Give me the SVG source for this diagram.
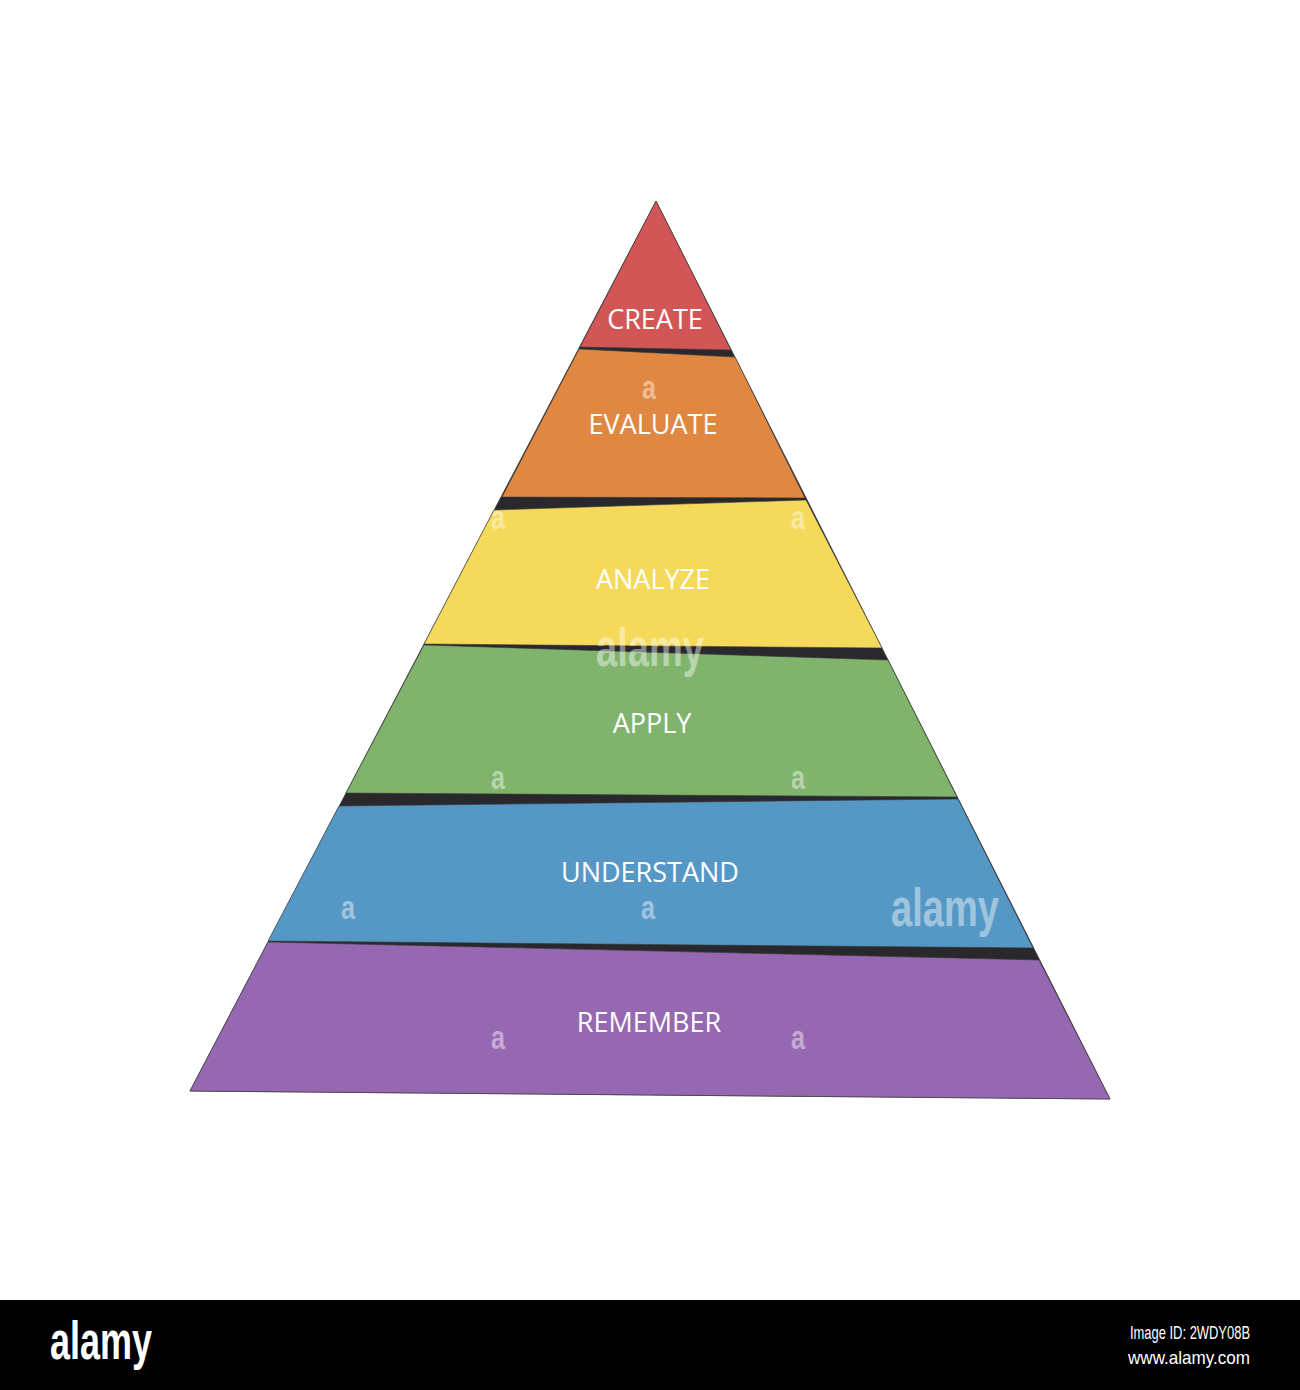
<svg xmlns="http://www.w3.org/2000/svg" width="1300" height="1390" viewBox="0 0 1300 1390">
<style>
.lbl{font-family:"Open Sans","Noto Sans",sans-serif;font-size:27px;fill:#ffffff;text-anchor:middle}
.band{stroke:#3a3a3a;stroke-width:0.6}
.wm{font-family:"Liberation Sans",sans-serif;font-weight:bold;fill:#ffffff;fill-opacity:0.45;text-anchor:middle}
.sm{font-size:34px}
.bar{font-family:"Liberation Sans",sans-serif;fill:#ffffff}
</style>
<rect width="1300" height="1390" fill="#ffffff"/>
<g id="base">
<polygon points="656,201 190,1091 1110,1099" fill="#29292d" stroke="#3a3a3a" stroke-width="0.8"/>
</g>
<g id="create">
<polygon class="band" points="656,201 731,350 580,347" fill="#d35656"/>
<text class="lbl" x="655" y="329">CREATE</text>
</g>
<g id="evaluate">
<polygon class="band" points="579,349 735,357 805,498 502,497" fill="#e08742"/>
<text class="lbl" x="653" y="434">EVALUATE</text>
</g>
<g id="analyze">
<polygon class="band" points="494,510 806,500 882,648 424,644" fill="#f5d95a"/>
<text class="lbl" x="653" y="589">ANALYZE</text>
</g>
<g id="apply">
<polygon class="band" points="424,645 888,660 957,797 346,793" fill="#80b46c"/>
<text class="lbl" x="652" y="733">APPLY</text>
</g>
<g id="understand">
<polygon class="band" points="339,806 958,799 1033,948 268,941" fill="#5698c5"/>
<text class="lbl" x="650" y="882">UNDERSTAND</text>
</g>
<g id="remember">
<polygon class="band" points="268,942 1039,960 1110,1099 190,1091" fill="#9668b1"/>
<text class="lbl" x="649" y="1032">REMEMBER</text>
</g>
<g id="watermarks">
<text class="wm" x="650" y="666" font-size="54" textLength="108" lengthAdjust="spacingAndGlyphs">alamy</text>
<text class="wm" x="945" y="926" font-size="54" textLength="108" lengthAdjust="spacingAndGlyphs">alamy</text>
<text class="wm sm" x="649" y="399" textLength="14" lengthAdjust="spacingAndGlyphs">a</text>
<text class="wm sm" x="498" y="529" textLength="14" lengthAdjust="spacingAndGlyphs">a</text>
<text class="wm sm" x="798" y="529" textLength="14" lengthAdjust="spacingAndGlyphs">a</text>
<text class="wm sm" x="498" y="789" textLength="14" lengthAdjust="spacingAndGlyphs">a</text>
<text class="wm sm" x="798" y="789" textLength="14" lengthAdjust="spacingAndGlyphs">a</text>
<text class="wm sm" x="348" y="919" textLength="14" lengthAdjust="spacingAndGlyphs">a</text>
<text class="wm sm" x="648" y="919" textLength="14" lengthAdjust="spacingAndGlyphs">a</text>
<text class="wm sm" x="498" y="1049" textLength="14" lengthAdjust="spacingAndGlyphs">a</text>
<text class="wm sm" x="798" y="1049" textLength="14" lengthAdjust="spacingAndGlyphs">a</text>
</g>
<g id="footer">
<rect x="0" y="1300" width="1300" height="90" fill="#000000"/>
<text class="bar" x="50" y="1359" font-size="54" font-weight="bold" textLength="102" lengthAdjust="spacingAndGlyphs">alamy</text>
<text class="bar" x="1130" y="1339" font-size="18" textLength="120" lengthAdjust="spacingAndGlyphs">Image ID: 2WDY08B</text>
<text class="bar" x="1128" y="1364" font-size="19" textLength="122" lengthAdjust="spacingAndGlyphs">www.alamy.com</text>
</g>
</svg>
